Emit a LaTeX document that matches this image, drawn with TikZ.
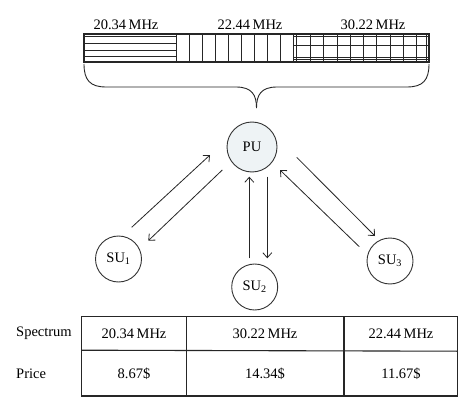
\documentclass[tikz,border=0pt]{standalone}
\usepackage{fontspec}
\setmainfont{Liberation Serif}
\usetikzlibrary{arrows.meta}
\begin{document}
\begin{tikzpicture}[x=1pt,y=-1pt,
 lbl/.style={font=\fontsize{14.5}{17}\selectfont, inner sep=0pt},
 unit/.style={circle, draw=black!80, line width=0.9pt, minimum size=46pt, inner sep=0pt, font=\fontsize{14.5}{17}\selectfont},
 flow/.style={draw=black!85, line width=0.8pt, -{Straight Barb[length=5pt,width=9pt]}},
 hatch/.style={line width=0.9pt, draw=black!85},
 tab/.style={line width=1.1pt, draw=black!85}
]
\useasboundingbox[fill=white] (0,0) rectangle (474,412);

% spectrum labels
\node[lbl] (l1) at (126,24.5) {20.34\,MHz};
\node[lbl] (l2) at (250,24.5) {22.44\,MHz};
\node[lbl] (l3) at (373,24.5) {30.22\,MHz};

% spectrum bar
\draw[hatch, line width=1.1pt] (84,34) rectangle (429,62);
\draw[hatch] (176,34) -- (176,62);
\draw[hatch] (293.5,34) -- (293.5,62);
% section 1: horizontal lines
\foreach \y in {36,43,50,56.5} \draw[hatch] (84,\y) -- (176,\y);
% section 2: vertical lines
\foreach \k in {1,...,8} \draw[hatch] ({176+13.1*\k},34) -- ({176+13.1*\k},62);
% section 3: grid
\foreach \x in {296.5,310.3,323.6,336.9,350.2,363.5,376.8,390.1,403.4,416.7,426.7} \draw[hatch, line width=0.8pt] (\x,34) -- (\x,62);
\foreach \y in {36,45,57,59.5} \draw[hatch, line width=0.8pt] (293.5,\y) -- (429,\y);

% brace
\draw[hatch] (84,64) .. controls (84,80) and (90,87) .. (106,87) -- (236,87) .. controls (252,87) and (256.5,95) .. (256.5,108);
\draw[hatch] (429,64) .. controls (429,80) and (423,87) .. (407,87) -- (277,87) .. controls (261,87) and (256.5,95) .. (256.5,108);

% users
\node[unit, fill={rgb,255:red,238;green,243;blue,245}, minimum size=50pt] (pu) at (252,147) {PU};
\node[unit] (su1) at (118.5,259) {SU\textsubscript{1}};
\node[unit] (su2) at (254.7,287) {SU\textsubscript{2}};
\node[unit] (su3) at (390,261) {SU\textsubscript{3}};

% arrow end points
\coordinate (a1s) at (131.7,227.3); \coordinate (a1e) at (210,155);
\coordinate (b1s) at (222.3,170);   \coordinate (b1e) at (148.3,240.7);
\coordinate (a2s) at (249.3,258.3); \coordinate (a2e) at (249.3,176.7);
\coordinate (b2s) at (267.3,176.7); \coordinate (b2e) at (267.3,258.3);
\coordinate (a3s) at (359.3,246.7); \coordinate (a3e) at (280,170);
\coordinate (b3s) at (296.7,157.3); \coordinate (b3e) at (375,236);

\draw[flow] (a1s) -- (a1e);
\draw[flow] (b1s) -- (b1e);
\draw[flow] (a2s) -- (a2e);
\draw[flow] (b2s) -- (b2e);
\draw[flow] (a3s) -- (a3e);
\draw[flow] (b3s) -- (b3e);

% table
\draw[tab] (81.7,316.7) rectangle (457.7,396);
\draw[tab] (81.7,350.2) -- (457.7,351.2);
\draw[tab] (186.7,316.7) -- (186.7,396);
\draw[tab] (344,316.7) -- (344,396);

\node[lbl, anchor=west] (rs) at (16,333.7) {Spectrum};
\node[lbl, anchor=west] (rp) at (16,373.4) {Price};

\node[lbl] (c11) at (134,333.7) {20.34\,MHz};
\node[lbl] (c12) at (265,333.7) {30.22\,MHz};
\node[lbl] (c13) at (401,333.7) {22.44\,MHz};
\node[lbl] (c21) at (134,373.4) {8.67\$};
\node[lbl] (c22) at (265,373.4) {14.34\$};
\node[lbl] (c23) at (401,373.4) {11.67\$};
\end{tikzpicture}
\end{document}
